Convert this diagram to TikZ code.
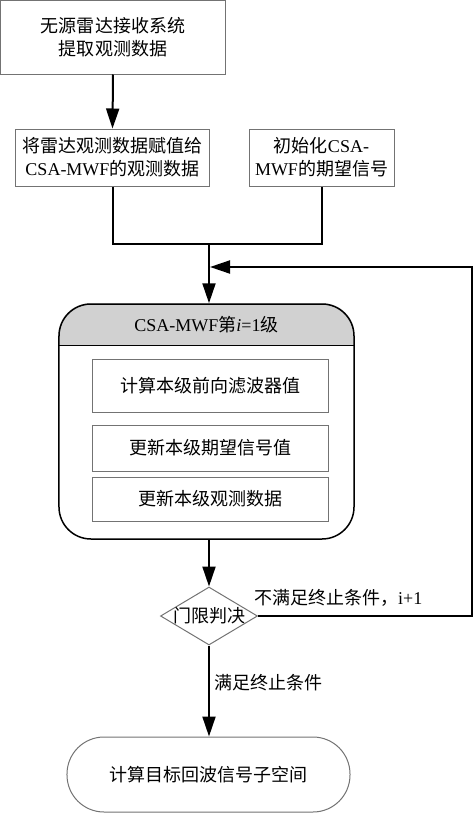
\documentclass[tikz,border=0pt]{standalone}
\usepackage{fontspec}
\setmainfont{Liberation Serif}
\newfontfamily\cjk{Noto Sans CJK SC}
\usetikzlibrary{arrows.meta,shapes.geometric,backgrounds}
\begin{document}
\begin{tikzpicture}[x=1bp,y=-1bp,
  txt/.style={font=\fontsize{18bp}{23bp}\selectfont},
  box/.style={txt, draw=black!55, line width=1bp, fill=white, align=center, inner sep=0pt},
  flow/.style={line width=2bp, -{Triangle[length=20bp,width=13bp]}},
  wire/.style={line width=2bp},
  lbl/.style={txt, inner sep=0pt}
]
\useasboundingbox (0,0) rectangle (474,814);

% top boxes
\node[box, minimum width=224bp, minimum height=73bp] (src) at (113,37.5)
  {{\cjk 无源雷达接收系统}\\{\cjk 提取观测数据}};
\node[box, minimum width=193bp, minimum height=57bp] (obs) at (112.5,157.5)
  {{\cjk 将雷达观测数据赋值给}\\CSA-MWF{\cjk 的观测数据}};
\node[box, minimum width=145bp, minimum height=57bp] (init) at (321.5,157.5)
  {{\cjk 初始化}CSA-\\MWF{\cjk 的期望信号}};

\coordinate (j) at (209,244);
\draw[flow] (src.south) -- (obs.north);
\draw[wire] (obs.south) |- (init.south |- j) -- (init.south);

% main block
\node[draw, line width=1.5bp, rounded corners=32bp, minimum width=295bp, minimum height=235bp] (blk) at (206.5,421.5) {};
\begin{scope}[on background layer]
  \clip[rounded corners=32bp] (blk.north west) rectangle (blk.south east);
  \fill[black!18] (blk.north west) rectangle ([yshift=-42bp]blk.north east);
\end{scope}
\draw[line width=1.5bp] ([yshift=-42bp]blk.north west) -- ([yshift=-42bp]blk.north east);
\node[lbl] (hdr) at (206.5,325) {CSA-MWF{\cjk 第}\textit{i}=1{\cjk 级}};

\node[box, minimum width=235bp, minimum height=53bp] (sa) at (210.5,385.5) {\cjk 计算本级前向滤波器值};
\node[box, minimum width=235bp, minimum height=46bp] (sb) at (210.5,448) {\cjk 更新本级期望信号值};
\node[box, minimum width=235bp, minimum height=44bp] (sc) at (210.5,499) {\cjk 更新本级观测数据};

\draw[flow] (j) -- (j |- blk.north);

% decision
\node[diamond, draw=black!55, line width=1bp, minimum width=97bp, minimum height=58bp, inner sep=0pt,
  label={[lbl]center:{\cjk 门限判决}}] (dec) at (209,616) {};
\draw[flow] (j |- blk.south) -- (dec.north);

\coordinate (fbr) at (472,267);
\coordinate (fbl) at (210,267);
\draw[flow] (dec.east) -| (fbr) -- (fbl);
\node[lbl, anchor=west] (nl) at (254,598) {{\cjk 不满足终止条件，}i+1};

% terminal
\node[box, minimum width=283bp, minimum height=75bp, rounded corners=37bp] (term) at (208.5,774.5) {\cjk 计算目标回波信号子空间};
\draw[flow] (dec.south) -- (dec.south |- term.north);
\node[lbl, anchor=west] (yl) at (214,683) {\cjk 满足终止条件};
\end{tikzpicture}
\end{document}
